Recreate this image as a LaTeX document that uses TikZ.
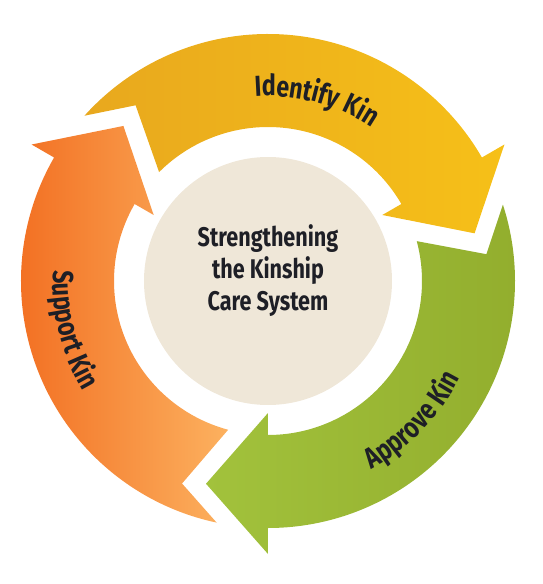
\documentclass[tikz,border=0pt]{standalone}
\usepackage{fontspec}
\newfontfamily\lblfont{Fira Sans}[FakeStretch=0.8]
\usetikzlibrary{decorations.text}
\definecolor{yelL}{HTML}{E8A81E}
\definecolor{yelR}{HTML}{F6C018}
\definecolor{grnL}{HTML}{A2C23C}
\definecolor{grnR}{HTML}{92AD2D}
\definecolor{orgL}{HTML}{F26E21}
\definecolor{orgR}{HTML}{FCB15F}
\definecolor{hubfill}{HTML}{EFE7D8}
\definecolor{txt}{HTML}{1E1F26}
\newcommand{\kinarrow}[3]{%
  \pgfmathsetmacro\pa{#1+120}%
  \shade[left color=#2, right color=#3]
    ({\pa-12}:247pt) arc[start angle=\pa-12, end angle=#1, radius=247pt]
    -- (#1:273pt) -- ({#1-17}:212pt) -- (#1:132pt) -- (#1:154pt)
    arc[start angle=#1, end angle=\pa-15, radius=154pt]
    -- ({\pa-23}:220pt) -- cycle;}
\tikzset{
  arclabel/.style={decorate, decoration={text along path, text align=center,
     text color=txt, text={|\lblfont\bfseries\fontsize{29}{29}\selectfont|#1}}}
}
\begin{document}
\begin{tikzpicture}
\useasboundingbox (-268pt,-303pt) rectangle (274pt,281pt);
\kinarrow{30}{yelL}{yelR}
\kinarrow{-90}{grnL}{grnR}
\kinarrow{150}{orgL}{orgR}
\node[circle, fill=hubfill, minimum size=248pt, inner sep=0pt] (hub) at (0,0) {};
\node[font=\lblfont\bfseries\fontsize{27}{32}\selectfont, text=txt, align=center] (title) at (0,10pt) {Strengthening\\the Kinship\\Care System};
\path[arclabel={Identify Kin}] (105:185pt) arc[start angle=105, end angle=45, radius=185pt];
\path[arclabel={Approve Kin}] (-74:215pt) arc[start angle=-74, end angle=-14, radius=215pt];
\path[arclabel={Support Kin}] (164:215pt) arc[start angle=164, end angle=224, radius=215pt];
\end{tikzpicture}
\end{document}
